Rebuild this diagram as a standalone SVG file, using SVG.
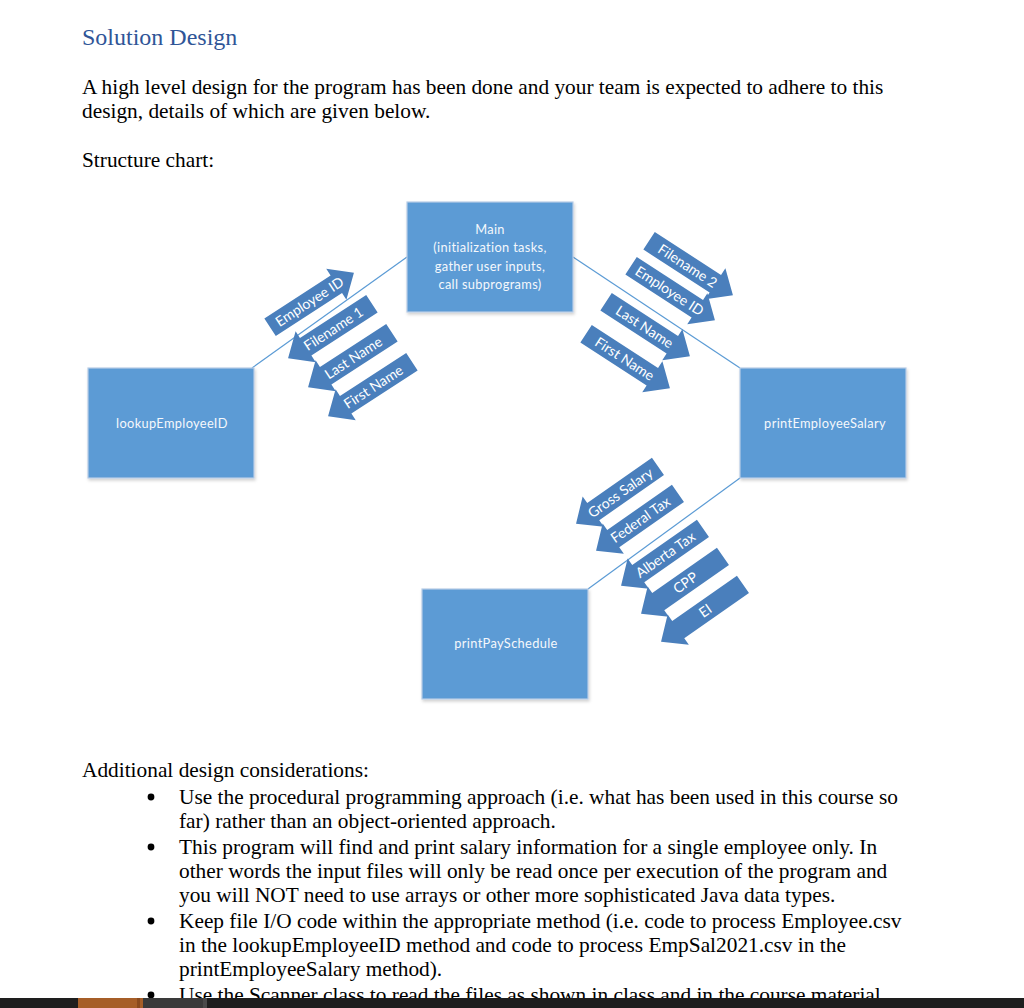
<svg xmlns="http://www.w3.org/2000/svg" width="1024" height="1008" viewBox="0 0 1024 1008">
<defs>
<style>
.doc{font-family:"Liberation Serif","Times New Roman",serif;font-size:21.35px;fill:#000}
.title{font-family:"Liberation Serif",serif;font-size:24px;fill:#2F5597}
.box{fill:#5B9BD5;stroke:#B7CCE6;stroke-width:1.2}
.bt{font-family:Lato,"Open Sans",sans-serif;font-size:12.8px;fill:#F5F8FC;text-anchor:middle;letter-spacing:0.35px}
.ar{fill:#4A7FBC}
.at{font-family:Lato,"Open Sans",sans-serif;font-size:14px;fill:#FFFFFF;text-anchor:middle}
.conn{stroke:#5B9BD5;stroke-width:1.2;fill:none}
</style>
<filter id="sh" x="-10%" y="-10%" width="130%" height="130%">
<feDropShadow dx="1" dy="2" stdDeviation="1.5" flood-color="#000" flood-opacity="0.18"/>
</filter>
<path id="aR" d="M-50,-10.5 H29 V-18.5 L50,0 L29,18.5 V10.5 H-50 Z"/>
<path id="aL" d="M50,-10.5 H-29 V-18.5 L-50,0 L-29,18.5 V10.5 H50 Z"/>
</defs>
<rect width="1024" height="1008" fill="#fff"/>

<text class="title" x="82" y="45">Solution Design</text>
<text class="doc" x="82" y="94">A high level design for the program has been done and your team is expected to adhere to this</text>
<text class="doc" x="82" y="118">design, details of which are given below.</text>
<text class="doc" x="82" y="167">Structure chart:</text>

<g id="connectors">
<line class="conn" x1="407" y1="257" x2="252" y2="368"/>
<line class="conn" x1="573" y1="257" x2="740" y2="368"/>
<line class="conn" x1="740" y1="478" x2="588" y2="589"/>
</g>

<g id="main">
<rect class="box" filter="url(#sh)" x="407" y="202" width="166" height="110"/>
<text class="bt" x="490" y="234">Main</text>
<text class="bt" x="490" y="252">(initialization tasks,</text>
<text class="bt" x="490" y="271">gather user inputs,</text>
<text class="bt" x="490" y="289">call subprograms)</text>
</g>
<g id="lookupEmployeeID">
<rect class="box" filter="url(#sh)" x="88" y="368" width="166" height="110"/>
<text class="bt" x="172" y="428">lookupEmployeeID</text>
</g>
<g id="printEmployeeSalary">
<rect class="box" filter="url(#sh)" x="740" y="368" width="166" height="110"/>
<text class="bt" x="825" y="428">printEmployeeSalary</text>
</g>
<g id="printPaySchedule">
<rect class="box" filter="url(#sh)" x="422" y="589" width="166" height="110"/>
<text class="bt" x="506" y="648">printPaySchedule</text>
</g>

<g id="flows-main-lookup">
<g transform="translate(312,300) rotate(-33)"><use href="#aR" class="ar"/><text class="at" x="-3" y="5">Employee ID</text></g>
<g transform="translate(330,331) rotate(-33)"><use href="#aL" class="ar"/><text class="at" x="4" y="5">Filename 1</text></g>
<g transform="translate(350,360) rotate(-33)"><use href="#aL" class="ar"/><text class="at" x="4" y="5">Last Name</text></g>
<g transform="translate(370,389) rotate(-33)"><use href="#aL" class="ar"/><text class="at" x="4" y="5">First Name</text></g>
</g>
<g id="flows-main-salary">
<g transform="translate(691,268) rotate(33)"><use href="#aR" class="ar"/><text class="at" x="-4" y="5">Filename 2</text></g>
<g transform="translate(673,293) rotate(33)"><use href="#aR" class="ar"/><text class="at" x="-4" y="5">Employee ID</text></g>
<g transform="translate(648,329) rotate(33)"><use href="#aR" class="ar"/><text class="at" x="-4" y="5">Last Name</text></g>
<g transform="translate(628,361) rotate(33)"><use href="#aR" class="ar"/><text class="at" x="-4" y="5">First Name</text></g>
</g>
<g id="flows-salary-schedule">
<g transform="translate(617,495) rotate(-35)"><use href="#aL" class="ar"/><text class="at" x="4" y="5">Gross Salary</text></g>
<g transform="translate(637,522) rotate(-35)"><use href="#aL" class="ar"/><text class="at" x="4" y="5">Federal Tax</text></g>
<g transform="translate(662,557) rotate(-35)"><use href="#aL" class="ar"/><text class="at" x="4" y="5">Alberta Tax</text></g>
<g transform="translate(682,585) rotate(-35)"><use href="#aL" class="ar"/><text class="at" x="4" y="5">CPP</text></g>
<g transform="translate(702,613) rotate(-35)"><use href="#aL" class="ar"/><text class="at" x="4" y="5">EI</text></g>
</g>

<text class="doc" x="82" y="777">Additional design considerations:</text>
<g id="bullets">
<circle cx="151" cy="797" r="3.4" fill="#000"/>
<text class="doc" x="179" y="804">Use the procedural programming approach (i.e. what has been used in this course so</text>
<text class="doc" x="179" y="828">far) rather than an object-oriented approach.</text>
<circle cx="151" cy="847" r="3.4" fill="#000"/>
<text class="doc" x="179" y="854">This program will find and print salary information for a single employee only. In</text>
<text class="doc" x="179" y="878">other words the input files will only be read once per execution of the program and</text>
<text class="doc" x="179" y="902">you will NOT need to use arrays or other more sophisticated Java data types.</text>
<circle cx="151" cy="921" r="3.4" fill="#000"/>
<text class="doc" x="179" y="928">Keep file I/O code within the appropriate method (i.e. code to process Employee.csv</text>
<text class="doc" x="179" y="952">in the lookupEmployeeID method and code to process EmpSal2021.csv in the</text>
<text class="doc" x="179" y="976">printEmployeeSalary method).</text>
<circle cx="151" cy="995" r="3.4" fill="#000"/>
<text class="doc" x="179" y="1002">Use the Scanner class to read the files as shown in class and in the course material</text>
</g>

<g id="taskbar">
<rect x="0" y="998" width="1024" height="10" fill="#1E1E1E"/>
<rect x="78" y="998" width="65" height="10" fill="#A65E28"/>
<rect x="137" y="998" width="3" height="10" fill="#8A4A1E"/>
<rect x="143" y="998" width="60" height="10" fill="#3A3A3A"/>
<rect x="203" y="998" width="4" height="10" fill="#4A4A4A"/>
</g>
</svg>
